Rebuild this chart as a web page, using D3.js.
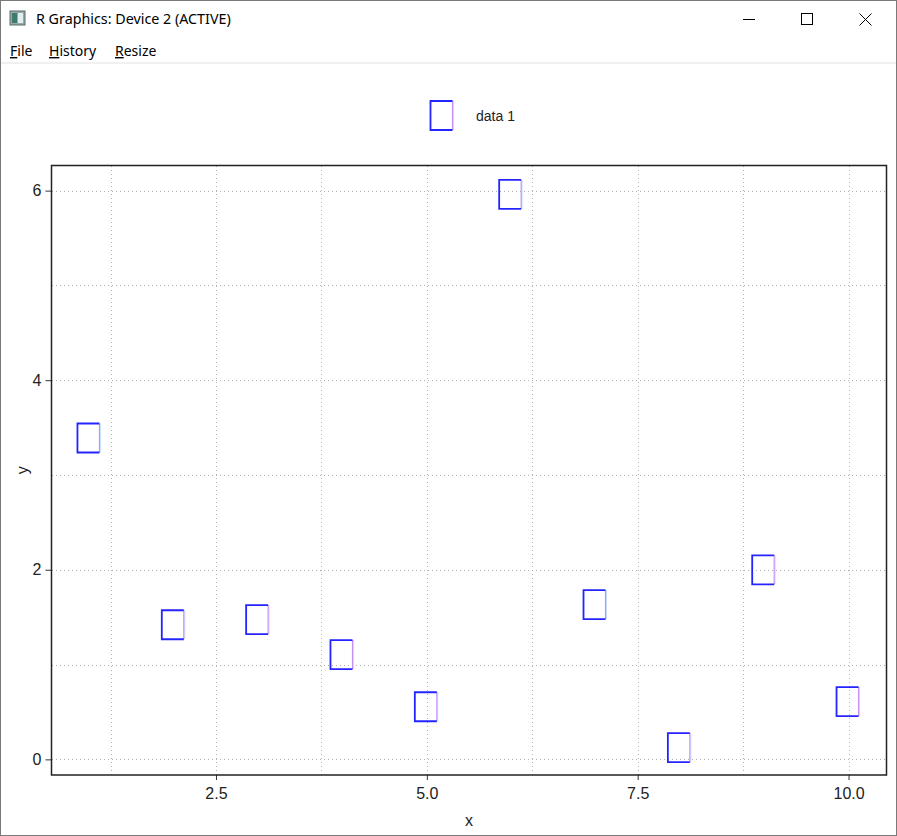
<!DOCTYPE html>
<html><head><meta charset="utf-8">
<script src="https://cdn.jsdelivr.net/npm/d3@7"></script>
<style>html,body{margin:0;padding:0;background:#fff;overflow:hidden}</style>
</head><body>
<script>
// ---- data ----
const xValues = [1, 2, 3, 4, 5, 6, 7, 8, 9, 10];
const yValues = [3.39, 1.42, 1.475, 1.105, 0.555, 5.96, 1.633, 0.124, 2.0, 0.61];
const seriesName = "data 1";
const xTicks = [2.5, 5.0, 7.5, 10.0];
const yTicks = [0, 2, 4, 6];
const xGrid = [1.25, 2.5, 3.75, 5, 6.25, 7.5, 8.75, 10];
const yGrid = [0, 1, 2, 3, 4, 5, 6];
const windowTitle = "R Graphics: Device 2 (ACTIVE)";
const menuItems = ["File", "History", "Resize"];

(function () {
const W = 897, H = 836;
const svg = d3.select("body").append("svg").attr("width", W).attr("height", H)
  .style("display", "block");

// ---- window chrome ----
svg.append("rect").attr("x", 0.5).attr("y", 0.5).attr("width", W - 1).attr("height", H - 1)
  .attr("fill", "#fff").attr("stroke", "#7a7a7a");
const ic = svg.append("g").attr("transform", "translate(10,11)");
ic.append("rect").attr("width", 15).attr("height", 14).attr("fill", "#9aa8a8").attr("stroke", "#5a6a6a");
ic.append("rect").attr("x", 2).attr("y", 2).attr("width", 5).attr("height", 10).attr("fill", "#3e7a6e");
ic.append("rect").attr("x", 8).attr("y", 2).attr("width", 5).attr("height", 10).attr("fill", "#e0eef0");
svg.append("text").attr("x", 36).attr("y", 24).text(windowTitle)
  .attr("font-family", "'Noto Sans', 'Open Sans', sans-serif").attr("font-size", 14.3).attr("fill", "#000");
svg.append("line").attr("x1", 743).attr("x2", 755).attr("y1", 19.5).attr("y2", 19.5).attr("stroke", "#000");
svg.append("rect").attr("x", 801.5).attr("y", 13.5).attr("width", 11).attr("height", 11).attr("fill", "none").attr("stroke", "#000");
svg.append("path").attr("d", "M859.5,13.5L871.5,25.5M871.5,13.5L859.5,25.5").attr("stroke", "#000");
const menuX = [10, 49, 115];
menuItems.forEach((m, i) => {
  const t = svg.append("text").attr("x", menuX[i]).attr("y", 56)
    .attr("font-family", "'Noto Sans', 'Open Sans', sans-serif").attr("font-size", 14).attr("fill", "#000");
  t.append("tspan").attr("text-decoration", "underline").text(m[0]);
  t.append("tspan").text(m.slice(1));
});
svg.append("rect").attr("x", 1).attr("y", 62).attr("width", W - 2).attr("height", 2).attr("fill", "#f0f0f0");

// ---- plot ----
const pL = 51.5, pR = 886.5, pT = 165.5, pB = 775;
const xExt = d3.extent(xValues);
const xPad = (xExt[1] - xExt[0]) * 0.05;
const x = d3.scaleLinear().domain([xExt[0] - xPad, xExt[1] + xPad]).range([pL, pR]);
const y = d3.scaleLinear().domain([-0.165, 6.265]).range([pB, pT]);

const grid = svg.append("g").attr("stroke", "#b0b0b0").attr("stroke-dasharray", "1,3").attr("stroke-width", 1)
  .attr("shape-rendering", "crispEdges");
xGrid.forEach(v => grid.append("line").attr("x1", Math.round(x(v)) + 0.5).attr("x2", Math.round(x(v)) + 0.5)
  .attr("y1", pT).attr("y2", pB));
yGrid.forEach(v => grid.append("line").attr("y1", Math.round(y(v)) + 0.5).attr("y2", Math.round(y(v)) + 0.5)
  .attr("x1", pL).attr("x2", pR));

const fontAx = "'Liberation Sans', Arial, sans-serif";
const xAxis = svg.append("g").attr("transform", `translate(0,${pB})`)
  .call(d3.axisBottom(x).tickValues(xTicks).tickFormat(d3.format(".1f")).tickSizeOuter(0).tickSize(5).tickPadding(8));
const yAxis = svg.append("g").attr("transform", `translate(${pL},0)`)
  .call(d3.axisLeft(y).tickValues(yTicks).tickFormat(d3.format("d")).tickSizeOuter(0).tickSize(6).tickPadding(4));
[xAxis, yAxis].forEach(a => {
  a.select(".domain").remove();
  a.selectAll("line").attr("stroke", "#333");
  a.selectAll("text").attr("font-family", fontAx).attr("font-size", 16).attr("fill", "#222");
});

svg.append("rect").attr("x", pL).attr("y", pT).attr("width", pR - pL).attr("height", pB - pT)
  .attr("fill", "none").attr("stroke", "#222").attr("stroke-width", 1.5);

svg.append("text").attr("x", (pL + pR) / 2).attr("y", 826).attr("text-anchor", "middle")
  .attr("font-family", fontAx).attr("font-size", 16).attr("fill", "#222").text("x");
svg.append("text").attr("transform", `translate(28,${(pT + pB) / 2}) rotate(-90)`).attr("text-anchor", "middle")
  .attr("font-family", fontAx).attr("font-size", 16).attr("fill", "#222").text("y");

const mw = 22, mh = 29;
function marker(g, cx, cy) {
  g.append("line").attr("x1", cx + mw / 2 + 1).attr("x2", cx + mw / 2 + 1).attr("y1", cy - mh / 2).attr("y2", cy + mh / 2)
    .attr("stroke", "#c4e6ff").attr("stroke-width", 1);
  g.append("line").attr("x1", cx + mw / 2).attr("x2", cx + mw / 2).attr("y1", cy - mh / 2).attr("y2", cy + mh / 2)
    .attr("stroke", "#c890f4").attr("stroke-width", 1.2);
  g.append("path").attr("d", `M${cx + mw / 2},${cy - mh / 2}H${cx - mw / 2}V${cy + mh / 2}H${cx + mw / 2}`)
    .attr("fill", "none").attr("stroke", "#2424ff").attr("stroke-width", 1.8);
}
const pts = svg.append("g");
xValues.forEach((v, i) => marker(pts, x(v) - 1, y(yValues[i])));

marker(svg.append("g"), 441.5, 115.5);
svg.append("text").attr("x", 476).attr("y", 121).attr("font-family", fontAx).attr("font-size", 14)
  .attr("fill", "#222").text(seriesName);
})();
</script>
</body></html>
